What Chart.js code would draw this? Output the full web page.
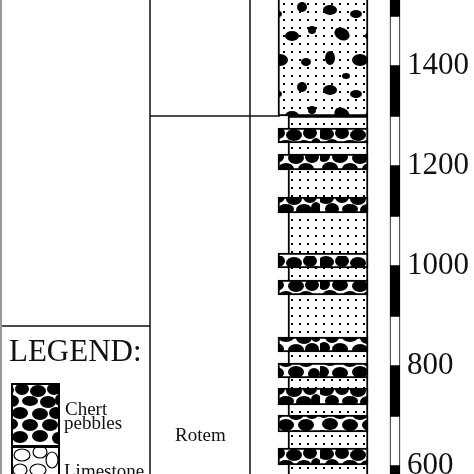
<!DOCTYPE html>
<html><head><meta charset="utf-8">
<script src="https://cdn.jsdelivr.net/npm/chart.js@4"></script>
<style>html,body{margin:0;padding:0;background:#fff}</style>
</head><body>
<canvas id="c" width="474" height="474"></canvas>
<script>
// Depth / elevation values (same units as scale labels)
const conglomerate = [[1300, 1540]];
const sandstone = [[570, 1300]];
const chertBeds = [[1246,1276],[1192,1224],[1106,1138],[996,1026],[942,972],[828,858],[776,806],[722,756],[668,702],[602,636]];
const scaleBlack = [[1500,1540],[1300,1400],[1100,1200],[900,1000],[700,800],[500,600]];
const scaleWhite = [[1400,1500],[1200,1300],[1000,1100],[800,900],[600,700]];
const tickLabels = [1400, 1200, 1000, 800, 600];
const boundaryLevel = 1300;
const formationName = 'Rotem';

function makePattern(bg, blobs, dots, size) {
  const p = document.createElement('canvas'); p.width = size; p.height = size;
  const g = p.getContext('2d');
  g.fillStyle = bg; g.fillRect(0,0,size,size);
  g.fillStyle = '#000';
  if (dots) for (let y = 3; y < size; y += 8) for (let x = 3; x < size; x += 8) g.fillRect(x, y, 2, 2);
  blobs.forEach(b => { g.beginPath(); g.ellipse(b[0], b[1], b[2], b[3], b[4]||0, 0, Math.PI*2); g.fill(); });
  return g;
}
const ctx0 = document.getElementById('c').getContext('2d');
const congBlobs = [[10,10,7,5],[36,14,6,4],[62,7,5,5],[22,34,8,6,0.5],[52,36,7,5],[72,30,4,4],[10,58,5,7],[40,60,8,6],[66,62,5,4],[26,76,4,3]];
const chertBlobs = [[6,6,8,6],[22,5,7,6],[38,7,8,6],[54,5,7,6],[12,17,7,6],[30,17,8,5],[48,18,8,6],[60,16,5,6],[4,28,6,6],[20,29,8,6],[40,30,8,6],[56,29,7,6],[10,40,8,6],[30,41,8,6],[50,41,8,6],[2,52,7,6],[20,53,8,6],[40,52,8,6],[58,54,6,6]];
const congPat = ctx0.createPattern(makePattern('#fff', congBlobs, true, 80).canvas, 'repeat');
const chertPat = ctx0.createPattern(makePattern('#fff', chertBlobs, false, 64).canvas, 'repeat');
const sandPat = ctx0.createPattern(makePattern('#fff', [], true, 64).canvas, 'repeat');

const mk = (arr, x) => arr.map(r => ({x: x, y: r}));

const overlay = {
  id: 'overlay',
  afterDatasetsDraw(chart) {
    const c = chart.ctx, y = chart.scales.y;
    c.save();
    c.strokeStyle = '#111'; c.lineWidth = 1.5;
    c.beginPath();
    c.moveTo(150, 0); c.lineTo(150, 474);
    c.moveTo(250, 0); c.lineTo(250, 474);
    const by = y.getPixelForValue(boundaryLevel);
    c.moveTo(150, by); c.lineTo(280, by);
    c.moveTo(0, 326); c.lineTo(150, 326);
    c.stroke();
    c.strokeStyle = '#999'; c.lineWidth = 2;
    c.beginPath(); c.moveTo(1, 0); c.lineTo(1, 474); c.stroke();
    c.fillStyle = '#111'; c.textBaseline = 'middle';
    c.font = '31px "Liberation Serif"';
    tickLabels.forEach(v => c.fillText(String(v), 407, y.getPixelForValue(v)));
    c.font = '31px "Liberation Serif"';
    c.fillText('LEGEND:', 9, 353);
    c.font = '19px "Liberation Serif"';
    c.fillText(formationName, 175, 436);
    c.font = '19px "Liberation Serif"';
    c.fillText('Chert', 65, 410);
    c.fillText('pebbles', 64, 424);
    c.fillText('Limestone', 64, 472);
    // legend swatches
    c.fillStyle = chertPat; c.fillRect(12, 384, 47, 62);
    c.strokeStyle = '#000'; c.lineWidth = 2; c.strokeRect(12, 384, 47, 62);
    c.fillStyle = '#fff'; c.fillRect(12, 447, 47, 30); c.strokeRect(12, 447, 47, 30);
    c.lineWidth = 1.2;
    [[22,455,8,6],[40,452,7,6],[52,460,6,8],[20,470,7,6],[38,470,8,6]].forEach(e => { c.beginPath(); c.ellipse(e[0],e[1],e[2],e[3],0,0,Math.PI*2); c.stroke(); });
    c.restore();
  }
};

const common = { borderColor: '#000', borderSkipped: false, grouped: false };
new Chart(ctx0, {
  type: 'bar',
  data: { datasets: [
    Object.assign({ data: mk(sandstone, 328), backgroundColor: sandPat, borderWidth: 2, barThickness: 80, order: 5 }, common),
    Object.assign({ data: mk(conglomerate, 323), backgroundColor: congPat, borderWidth: 2, barThickness: 90, order: 4 }, common),
    Object.assign({ data: mk(chertBeds, 323), backgroundColor: chertPat, borderWidth: 2, barThickness: 90, order: 3 }, common),
    Object.assign({ data: mk(scaleBlack, 395), backgroundColor: '#000', borderWidth: 1, barThickness: 10, order: 1 }, common),
    Object.assign({ data: mk(scaleWhite, 395), backgroundColor: '#fff', borderWidth: 1, barThickness: 10, order: 2 }, common)
  ]},
  options: {
    responsive: false, animation: false,
    layout: { padding: 0 },
    plugins: { legend: { display: false }, tooltip: { enabled: false } },
    scales: {
      x: { type: 'linear', min: 0, max: 474, display: false, offset: false },
      y: { type: 'linear', min: 584, max: 1532, display: false }
    }
  },
  plugins: [overlay]
});
</script>
</body></html>
